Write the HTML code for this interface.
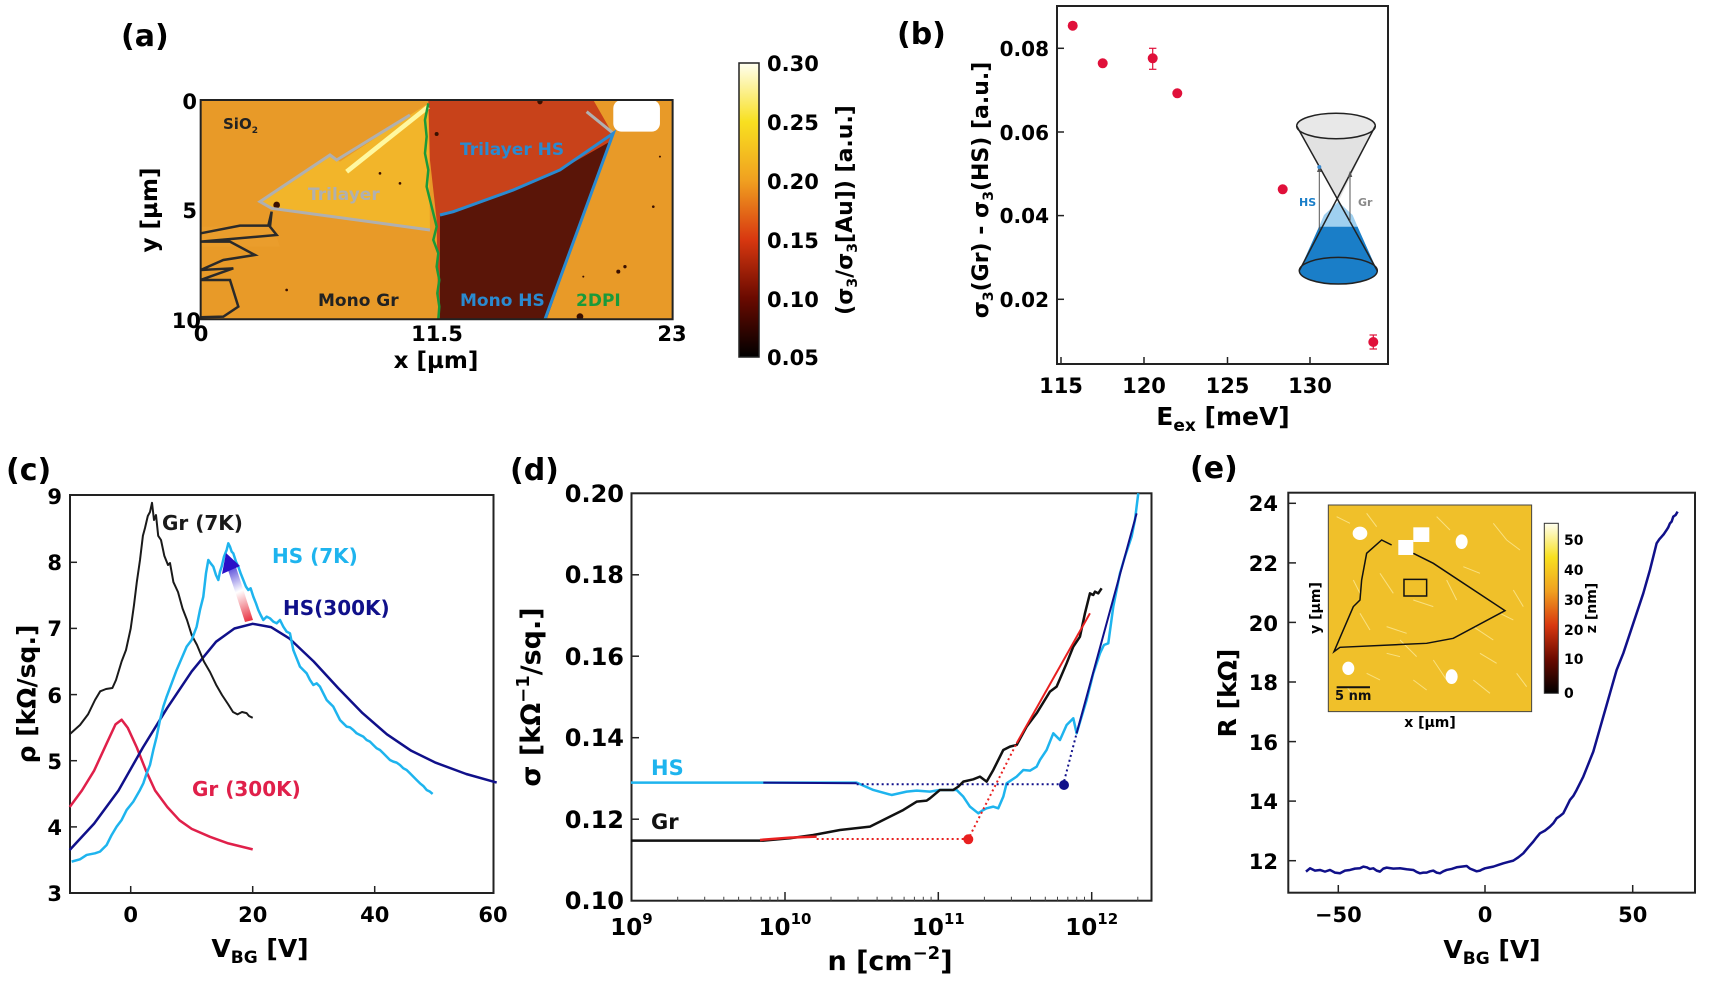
<!DOCTYPE html>
<html><head><meta charset="utf-8"><style>
html,body{margin:0;padding:0;background:#fff}
svg{display:block}
text{font-family:"DejaVu Sans","Liberation Sans",sans-serif;font-weight:bold}
</style></head><body>
<svg width="1725" height="982" viewBox="0 0 1725 982" xmlns="http://www.w3.org/2000/svg">
<defs>
<linearGradient id="hot" x1="0" y1="1" x2="0" y2="0">
<stop offset="0" stop-color="#000"/><stop offset="0.2" stop-color="#6a0a00"/><stop offset="0.4" stop-color="#d83810"/><stop offset="0.6" stop-color="#f0a020"/><stop offset="0.8" stop-color="#f8e020"/><stop offset="1" stop-color="#fffff0"/>
</linearGradient>
<linearGradient id="arr" x1="253" y1="620" x2="227" y2="562" gradientUnits="userSpaceOnUse">
<stop offset="0" stop-color="#e83040"/><stop offset="0.5" stop-color="#ffffff"/><stop offset="1" stop-color="#3020d0"/>
</linearGradient>
</defs>

<!-- ================= (a) ================= -->
<text x="121" y="46" font-size="30">(a)</text>
<g transform="translate(180,60) scale(0.3333)">
<rect x="62" y="120" width="1416" height="658" fill="#e89a28"/>
<polygon points="745,120 1240,120 1300,225 1100,778 775,778 770,480 750,300" fill="#c8421a"/>
<polygon points="780,465 820,455 1000,390 1140,330 1290,245 1100,778 780,778" fill="#5a1508"/>
<polygon points="240,425 450,285 480,305 690,165 745,130 750,510 275,445" fill="#f2b52a"/>
<polygon points="62,500 280,500 300,560 180,560 62,560" fill="#eca030" opacity="0.5"/>
<rect x="1300" y="120" width="140" height="95" rx="25" fill="#fff"/>
<line x1="500" y1="335" x2="745" y2="140" stroke="#fff8a0" stroke-width="14"/>
<g fill="#3a1000">
<circle cx="290" cy="435" r="10"/><circle cx="1080" cy="125" r="8"/><circle cx="770" cy="222" r="6"/><circle cx="1315" cy="635" r="6"/><circle cx="1200" cy="770" r="10"/><circle cx="600" cy="340" r="4"/><circle cx="660" cy="370" r="4"/><circle cx="1420" cy="440" r="4"/><circle cx="1335" cy="620" r="5"/><circle cx="320" cy="690" r="4"/><circle cx="1440" cy="290" r="3"/><circle cx="1210" cy="650" r="3"/>
</g>
<g fill="none">
<polyline points="690,165 470,300 450,285 240,425 275,445 750,510" stroke="#b0b0b0" stroke-width="3" vector-effect="non-scaling-stroke"/>
<line x1="1220" y1="155" x2="1300" y2="220" stroke="#b0b0b0" stroke-width="3" vector-effect="non-scaling-stroke"/>
<polyline points="745,130 735,180 740,230 735,280 745,330 740,380 750,420 760,460 770,500 760,540 775,580 770,620 778,660 772,700 778,740 775,778" stroke="#1a9a3a" stroke-width="2.5" vector-effect="non-scaling-stroke"/>
<polyline points="780,465 820,455 1000,390 1140,330 1300,220 1095,778" stroke="#2a8ad0" stroke-width="3" vector-effect="non-scaling-stroke"/>
<polyline points="62,520 180,497 265,497 275,455 270,500 290,525 62,545 150,545 225,585 130,600 62,630 160,625 62,660 150,660 175,740 130,770 62,772" stroke="#2a2a2a" stroke-width="2.5" vector-effect="non-scaling-stroke"/>
</g>
<rect x="62" y="120" width="1416" height="658" fill="none" stroke="#222" stroke-width="2" vector-effect="non-scaling-stroke"/>
</g>
<text x="223" y="129" font-size="15" font-weight="normal" fill="#222">SiO<tspan font-size="9" dy="4">2</tspan></text>
<text x="308" y="200" font-size="17" fill="#b0b0b0">Trilayer</text>
<text x="460" y="155" font-size="17" fill="#2a8ad0">Trilayer HS</text>
<text x="318" y="306" font-size="17" fill="#222">Mono Gr</text>
<text x="460" y="306" font-size="17" fill="#2a8ad0">Mono HS</text>
<text x="576" y="306" font-size="17" fill="#1a9a3a">2DPI</text>
<g font-size="21" text-anchor="end">
<text x="197" y="109">0</text><text x="197" y="218">5</text><text x="201" y="328">10</text>
</g>
<g font-size="21" text-anchor="middle">
<text x="201" y="341">0</text><text x="437" y="341">11.5</text><text x="672" y="341">23</text>
</g>
<text x="436" y="368" font-size="23" text-anchor="middle">x [µm]</text>
<text transform="translate(157,210) rotate(-90)" font-size="23" text-anchor="middle">y [µm]</text>
<rect x="739" y="63" width="20" height="294" fill="url(#hot)" stroke="#222" stroke-width="1.5"/>
<g font-size="21">
<text x="767" y="71">0.30</text><text x="767" y="130">0.25</text><text x="767" y="189">0.20</text><text x="767" y="248">0.15</text><text x="767" y="307">0.10</text><text x="767" y="365">0.05</text>
</g>
<text transform="translate(852,210) rotate(-90)" font-size="22" text-anchor="middle">(σ<tspan font-size="14" dy="5">3</tspan><tspan dy="-5">/σ</tspan><tspan font-size="14" dy="5">3</tspan><tspan dy="-5">[Au]) [a.u.]</tspan></text>

<!-- ================= (b) ================= -->
<text x="897" y="44" font-size="30">(b)</text>
<rect x="1057" y="6" width="331" height="358" fill="none" stroke="#222" stroke-width="2"/>
<g stroke="#222" stroke-width="1.5">
<line x1="1061" y1="364" x2="1061" y2="357"/><line x1="1144" y1="364" x2="1144" y2="357"/><line x1="1227.5" y1="364" x2="1227.5" y2="357"/><line x1="1310" y1="364" x2="1310" y2="357"/>
<line x1="1057" y1="48.3" x2="1064" y2="48.3"/><line x1="1057" y1="132" x2="1064" y2="132"/><line x1="1057" y1="215.6" x2="1064" y2="215.6"/><line x1="1057" y1="299.3" x2="1064" y2="299.3"/>
</g>
<g font-size="20" text-anchor="end">
<text x="1049" y="56">0.08</text><text x="1049" y="140">0.06</text><text x="1049" y="223">0.04</text><text x="1049" y="307">0.02</text>
</g>
<g font-size="21" text-anchor="middle">
<text x="1061" y="393">115</text><text x="1144" y="393">120</text><text x="1227.5" y="393">125</text><text x="1310" y="393">130</text>
</g>
<text x="1223" y="425" font-size="25" text-anchor="middle">E<tspan font-size="17" dy="6">ex</tspan><tspan dy="-6"> [meV]</tspan></text>
<text transform="translate(988,190) rotate(-90)" font-size="22" text-anchor="middle">σ<tspan font-size="14" dy="5">3</tspan><tspan dy="-5">(Gr) - σ</tspan><tspan font-size="14" dy="5">3</tspan><tspan dy="-5">(HS) [a.u.]</tspan></text>
<g fill="#e0103a">
<circle cx="1072.7" cy="25.7" r="5"/><circle cx="1102.7" cy="63.3" r="5"/><circle cx="1152.7" cy="58.3" r="5"/><circle cx="1177.3" cy="93.3" r="5"/><circle cx="1282.7" cy="189.3" r="5"/><circle cx="1373.3" cy="342" r="5"/>
</g>
<g stroke="#e0103a" stroke-width="1.2">
<line x1="1152.7" y1="48.3" x2="1152.7" y2="69.3"/><line x1="1149" y1="48.3" x2="1156.4" y2="48.3"/><line x1="1149" y1="69.3" x2="1156.4" y2="69.3"/>
<line x1="1373.3" y1="335" x2="1373.3" y2="349"/><line x1="1369.5" y1="335" x2="1377" y2="335"/><line x1="1369.5" y1="349" x2="1377" y2="349"/>
</g>
<polygon points="1296.7,126 1375.3,126 1338.3,201.7" fill="#e2e2e2"/>
<polygon points="1338.3,201.7 1319,226.7 1299.3,270.7 1377.3,270.7 1357.6,226.7" fill="#1a7ec8"/>
<polygon points="1338.3,201.7 1324,215 1319,226.7 1357.6,226.7 1352.6,215" fill="#9fd0f0"/>
<ellipse cx="1338.3" cy="270.7" rx="39" ry="13.3" fill="#1a7ec8" stroke="#222" stroke-width="1.5"/>
<ellipse cx="1336" cy="126" rx="39.3" ry="12.7" fill="#e8e8e8" stroke="#222" stroke-width="1.5"/>
<line x1="1296.7" y1="126" x2="1377.3" y2="270.7" stroke="#222" stroke-width="1.5"/>
<line x1="1375.3" y1="126" x2="1299.3" y2="270.7" stroke="#222" stroke-width="1.5"/>
<g stroke="#555" stroke-width="1"><line x1="1319.3" y1="230" x2="1319.3" y2="170"/><line x1="1350" y1="221.7" x2="1350" y2="175"/></g>
<polygon points="1317,172 1321.6,172 1319.3,166" fill="#555"/><polygon points="1347.7,177 1352.3,177 1350,171" fill="#555"/>
<circle cx="1319.3" cy="167" r="2" fill="#3a8ad0"/>
<text x="1299" y="206" font-size="11" fill="#1a7ec8">HS</text>
<text x="1358" y="206" font-size="11" font-weight="normal" fill="#888">Gr</text>

<!-- ================= (c) ================= -->
<text x="6" y="480" font-size="30">(c)</text>
<rect x="70" y="495" width="423.5" height="398" fill="none" stroke="#222" stroke-width="2"/>
<g stroke="#222" stroke-width="1.5">
<line x1="130.7" y1="893" x2="130.7" y2="886"/><line x1="252.7" y1="893" x2="252.7" y2="886"/><line x1="374.7" y1="893" x2="374.7" y2="886"/>
<line x1="70" y1="826.9" x2="77" y2="826.9"/><line x1="70" y1="760.7" x2="77" y2="760.7"/><line x1="70" y1="694.6" x2="77" y2="694.6"/><line x1="70" y1="628.4" x2="77" y2="628.4"/><line x1="70" y1="562.3" x2="77" y2="562.3"/>
</g>
<g font-size="21" text-anchor="end">
<text x="62" y="901">3</text><text x="62" y="835">4</text><text x="62" y="769">5</text><text x="62" y="703">6</text><text x="62" y="636">7</text><text x="62" y="570">8</text><text x="62" y="504">9</text>
</g>
<g font-size="21" text-anchor="middle">
<text x="130.7" y="922">0</text><text x="252.7" y="922">20</text><text x="374.7" y="922">40</text><text x="493" y="922">60</text>
</g>
<text x="260" y="957" font-size="25" text-anchor="middle">V<tspan font-size="17" dy="6">BG</tspan><tspan dy="-6"> [V]</tspan></text>
<text transform="translate(35,694) rotate(-90)" font-size="25" text-anchor="middle">ρ [kΩ/sq.]</text>
<g fill="none" stroke-width="2.5" stroke-linejoin="round">
<polyline stroke="#e0204a" points="69.7,807 81.9,790.5 94.1,770.7 106.3,744.2 115.5,724.4 121.6,719.7 127.7,727.7 136.8,747.5 146,770.7 155.1,790.5 167.3,807 179.5,820.3 191.7,828.9 210,836.8 228.3,843.4 252.7,849.4"/>
<polyline stroke="#10108a" points="69.7,850 94.1,823.6 118.5,790.5 142.9,747.5 167.3,707.8 191.7,671.4 216.1,641.7 234.4,628.5 252.7,623.8 271,627.1 289.3,638.4 313.7,661.5 338.1,688 362.5,713.1 386.9,734.3 411.3,750.8 435.7,762.7 466.2,774 496.7,782.6"/>
<polyline stroke="#1a1a1a" stroke-width="2" points="69.7,734.3 80,725 88,714.4 95,700 100.2,691.3 106,689 112.4,688 116,680 121.6,661.5 126,650 130.7,628.5 134,605 136.8,582.1 140,560 142.9,535.8 145,528 147.8,516 150,512 152,502.8 154,520 156,515 158.2,535.8 161,540 164.3,555.7 168,565 170,563 173.4,582.1 178,592 182.6,608.6 187,620 191.7,635.1 197,645 203.9,661.5 210,672 216.1,684.7 222,695 228.3,704.5 233,712 237.5,714.4 242,712 246.6,713.1 249,716 252.7,717.8"/>
<g transform="translate(0,440) scale(0.3333)">
<polyline stroke="#1eb4ee" stroke-width="2.5" vector-effect="non-scaling-stroke" points="215,1265 240,1258 260,1245 285,1240 300,1235 320,1215 335,1185 350,1160 365,1140 380,1110 400,1085 420,1050 430,1030 440,1000 450,975 460,930 470,890 480,840 490,800 500,770 515,730 530,690 545,655 560,620 575,600 590,560 600,510 610,470 618,400 625,360 632,370 640,380 648,405 655,420 660,395 665,380 672,350 680,330 685,310 690,320 695,335 700,340 708,365 715,380 722,400 730,420 738,440 745,450 752,445 760,470 768,490 775,510 782,525 790,540 800,530 810,535 820,545 830,550 840,540 850,560 860,575 870,580 875,605 880,630 890,655 900,680 910,690 920,700 930,720 940,735 950,730 960,740 970,760 980,780 990,790 1000,800 1010,820 1020,840 1030,850 1040,860 1050,862 1060,870 1070,880 1080,885 1090,890 1100,900 1110,905 1120,915 1130,925 1140,930 1150,940 1160,950 1170,960 1180,965 1190,968 1200,975 1210,985 1220,990 1230,1000 1240,1010 1250,1020 1260,1030 1270,1038 1280,1050 1290,1055 1298,1062"/>
</g>
</g>
<polygon points="253,620 245,622 228,570 236,567" fill="url(#arr)"/>
<polygon points="222,574 240,566 226,553" fill="#2a10c8"/>
<text x="162" y="530" font-size="20" fill="#1a1a1a">Gr (7K)</text>
<text x="272" y="563" font-size="20" fill="#1eb4ee">HS (7K)</text>
<text x="283" y="615" font-size="20" fill="#10108a">HS(300K)</text>
<text x="192" y="796" font-size="20" fill="#e0204a">Gr (300K)</text>

<!-- ================= (d) ================= -->
<text x="510" y="480" font-size="30">(d)</text>
<rect x="631.5" y="493.3" width="520" height="407.4" fill="none" stroke="#222" stroke-width="2"/>
<g stroke="#222" stroke-width="1.5">
<line x1="785" y1="900.7" x2="785" y2="892"/><line x1="938.3" y1="900.7" x2="938.3" y2="892"/><line x1="1091.7" y1="900.7" x2="1091.7" y2="892"/>
<line x1="631.5" y1="819.2" x2="639" y2="819.2"/><line x1="631.5" y1="737.7" x2="639" y2="737.7"/><line x1="631.5" y1="656.2" x2="639" y2="656.2"/><line x1="631.5" y1="574.8" x2="639" y2="574.8"/>
</g>
<g stroke="#444" stroke-width="1">
<path d="M677.7 900.7v-4M704.7 900.7v-4M723.8 900.7v-4M738.6 900.7v-4M750.8 900.7v-4M761.1 900.7v-4M770 900.7v-4M777.8 900.7v-4M831 900.7v-4M858 900.7v-4M877.1 900.7v-4M891.9 900.7v-4M904.1 900.7v-4M914.4 900.7v-4M923.3 900.7v-4M931.1 900.7v-4M984.4 900.7v-4M1011.4 900.7v-4M1030.5 900.7v-4M1045.3 900.7v-4M1057.5 900.7v-4M1067.8 900.7v-4M1076.7 900.7v-4M1084.5 900.7v-4M1137.8 900.7v-4"/>
</g>
<g font-size="24" text-anchor="end">
<text x="624" y="909">0.10</text><text x="624" y="828">0.12</text><text x="624" y="746">0.14</text><text x="624" y="665">0.16</text><text x="624" y="583">0.18</text><text x="624" y="502">0.20</text>
</g>
<g font-size="23" text-anchor="middle">
<text x="631.5" y="935">10<tspan font-size="15" dy="-11">9</tspan></text>
<text x="785" y="935">10<tspan font-size="15" dy="-11">10</tspan></text>
<text x="938.3" y="935">10<tspan font-size="15" dy="-11">11</tspan></text>
<text x="1091.7" y="935">10<tspan font-size="15" dy="-11">12</tspan></text>
</g>
<text x="890" y="970" font-size="27" text-anchor="middle">n [cm<tspan font-size="18" dy="-11">−2</tspan><tspan dy="11">]</tspan></text>
<text transform="translate(540,697) rotate(-90)" font-size="27" text-anchor="middle">σ [kΩ<tspan font-size="18" dy="-11">−1</tspan><tspan dy="11">/sq.]</tspan></text>
<g transform="translate(640,480) scale(0.3333)" fill="none" stroke-linejoin="round">
<polyline stroke="#1eb4ee" stroke-width="2.5" vector-effect="non-scaling-stroke" points="-27,908 650,908 700,930 755,945 800,935 830,932 870,935 900,930 950,930 970,950 990,980 1015,1000 1030,990 1040,985 1060,980 1075,985 1090,950 1100,910 1130,890 1150,870 1170,872 1190,860 1200,840 1220,810 1240,760 1260,780 1280,735 1300,715 1310,760 1325,710 1340,660 1360,580 1380,520 1392,495 1405,490 1420,380 1440,280 1455,230 1475,170 1485,120 1495,40"/>
<polyline stroke="#10108a" stroke-width="2" vector-effect="non-scaling-stroke" points="370,908 650,910"/>
<polyline stroke="#10108a" stroke-width="2" stroke-dasharray="2,3" vector-effect="non-scaling-stroke" points="650,913 1270,913 1310,760"/>
<polyline stroke="#10108a" stroke-width="2" vector-effect="non-scaling-stroke" points="1310,760 1490,100"/>
<polyline stroke="#111" stroke-width="2.5" vector-effect="non-scaling-stroke" points="-27,1082 370,1082 450,1075 520,1065 600,1050 690,1040 720,1025 750,1010 790,990 830,965 860,962 870,955 900,930 940,930 955,920 970,905 1000,898 1020,890 1040,905 1060,870 1090,810 1110,800 1130,795 1160,740 1190,700 1230,635 1250,620 1280,550 1300,500 1320,470 1335,400 1350,340 1360,345 1365,335 1375,340 1385,325"/>
<polyline stroke="#e82020" stroke-width="2.5" vector-effect="non-scaling-stroke" points="360,1080 450,1073 530,1070"/>
<polyline stroke="#e82020" stroke-width="2" stroke-dasharray="2,3" vector-effect="non-scaling-stroke" points="530,1077 985,1077 1130,790"/>
<polyline stroke="#e82020" stroke-width="2" vector-effect="non-scaling-stroke" points="1130,790 1350,400"/>
</g>
<circle cx="968.3" cy="839.3" r="5" fill="#e82020"/>
<circle cx="1064" cy="785" r="5" fill="#10108a"/>
<text x="651" y="775" font-size="21" fill="#1eb4ee">HS</text>
<text x="651" y="829" font-size="21" fill="#111">Gr</text>

<!-- ================= (e) ================= -->
<text x="1190" y="478" font-size="30">(e)</text>
<rect x="1288.3" y="492.7" width="406.7" height="400" fill="none" stroke="#222" stroke-width="2"/>
<g stroke="#222" stroke-width="1.5">
<line x1="1338.3" y1="892.7" x2="1338.3" y2="885"/><line x1="1485" y1="892.7" x2="1485" y2="885"/><line x1="1632.7" y1="892.7" x2="1632.7" y2="885"/>
<line x1="1288.3" y1="860.7" x2="1296" y2="860.7"/><line x1="1288.3" y1="801.1" x2="1296" y2="801.1"/><line x1="1288.3" y1="741.6" x2="1296" y2="741.6"/><line x1="1288.3" y1="682" x2="1296" y2="682"/><line x1="1288.3" y1="622.4" x2="1296" y2="622.4"/><line x1="1288.3" y1="562.9" x2="1296" y2="562.9"/><line x1="1288.3" y1="503.3" x2="1296" y2="503.3"/>
</g>
<g font-size="21" text-anchor="end">
<text x="1278" y="869">12</text><text x="1278" y="809">14</text><text x="1278" y="750">16</text><text x="1278" y="690">18</text><text x="1278" y="631">20</text><text x="1278" y="571">22</text><text x="1278" y="511">24</text>
</g>
<g font-size="21" text-anchor="middle">
<text x="1338.3" y="922">−50</text><text x="1485" y="922">0</text><text x="1632.7" y="922">50</text>
</g>
<text x="1492" y="958" font-size="25" text-anchor="middle">V<tspan font-size="17" dy="6">BG</tspan><tspan dy="-6"> [V]</tspan></text>
<text transform="translate(1236,693) rotate(-90)" font-size="25" text-anchor="middle">R [kΩ]</text>
<g transform="translate(1180,440) scale(0.3333)">
<rect x="445" y="195" width="610" height="620" fill="#f0c02a"/>
<g stroke="#fae48a" stroke-width="3" vector-effect="non-scaling-stroke" opacity="0.9">
<path d="M470 230l40 20M560 220l30 40M600 400l40 60M700 480l60 20M800 420l30 60M880 560l60 40M900 640l50 30M760 660l40 60M620 560l60 20M540 520l30 50M980 300l40 30M1000 450l30 50M700 720l40 30M880 720l50 40M500 740l30 40M620 640l40 10M850 380l50 20M940 250l40 50M770 230l40 40M660 600l50 50M960 520l40 20M520 420l20 40M1010 700l30 40M560 700l40 20"/>
</g>
<g fill="#fff">
<ellipse cx="540" cy="280" rx="22" ry="20"/><rect x="700" y="262" width="48" height="44"/><rect x="655" y="300" width="45" height="45"/><ellipse cx="845" cy="305" rx="18" ry="22"/><ellipse cx="505" cy="685" rx="18" ry="20"/><ellipse cx="815" cy="710" rx="18" ry="22"/>
</g>
<polyline fill="none" stroke="#111" stroke-width="1.5" vector-effect="non-scaling-stroke" points="635,315 605,300 560,340 545,420 540,480 520,500 462,635 480,622 740,610 820,595 975,512 760,370 700,340"/>
<rect x="672" y="418" width="68" height="50" fill="none" stroke="#111" stroke-width="1.5" vector-effect="non-scaling-stroke"/>
<line x1="470" y1="742" x2="570" y2="742" stroke="#111" stroke-width="2" vector-effect="non-scaling-stroke"/>
<rect x="445" y="195" width="610" height="620" fill="none" stroke="#444" stroke-width="1" vector-effect="non-scaling-stroke"/>
<polyline fill="none" stroke="#10108a" stroke-width="2.5" stroke-linejoin="round" vector-effect="non-scaling-stroke" points="378,1295 390,1285 405,1292 420,1290 435,1295 450,1290 465,1298 480,1300 495,1292 510,1290 525,1286 540,1285 550,1280 560,1282 570,1287 580,1285 590,1292 600,1295 610,1286 620,1283 640,1286 660,1285 680,1288 700,1290 710,1296 720,1300 730,1298 740,1298 750,1294 760,1292 770,1298 780,1300 790,1294 800,1290 815,1287 830,1282 845,1280 860,1278 870,1286 880,1290 890,1294 900,1292 908,1288 915,1285 925,1283 940,1280 955,1275 970,1270 985,1266 1000,1262 1015,1252 1030,1240 1045,1222 1060,1205 1070,1192 1080,1180 1095,1172 1110,1160 1120,1150 1130,1135 1140,1128 1150,1120 1160,1100 1170,1080 1180,1068 1190,1050 1200,1030 1210,1010 1220,985 1230,960 1240,935 1250,900 1260,865 1270,830 1280,795 1290,760 1300,725 1310,690 1320,665 1330,640 1340,610 1350,580 1360,550 1370,520 1380,490 1390,460 1400,425 1410,390 1420,350 1430,310 1438,298 1445,290 1452,282 1460,270 1465,262 1470,250 1475,245 1480,230 1487,225 1493,215"/>
</g>
<rect x="1544.3" y="523.3" width="14" height="170" fill="url(#hot)" stroke="#333" stroke-width="1"/>
<g font-size="14">
<text x="1564" y="545">50</text><text x="1564" y="575">40</text><text x="1564" y="605">30</text><text x="1564" y="635">20</text><text x="1564" y="664">10</text><text x="1564" y="698">0</text>
</g>
<text transform="translate(1596,608) rotate(-90)" font-size="14" text-anchor="middle">z [nm]</text>
<text transform="translate(1320,608) rotate(-90)" font-size="14" text-anchor="middle">y [µm]</text>
<text x="1430" y="727" font-size="14" text-anchor="middle">x [µm]</text>
<text x="1335" y="700" font-size="13" font-weight="normal" fill="#111">5 nm</text>
</svg>
</body></html>
